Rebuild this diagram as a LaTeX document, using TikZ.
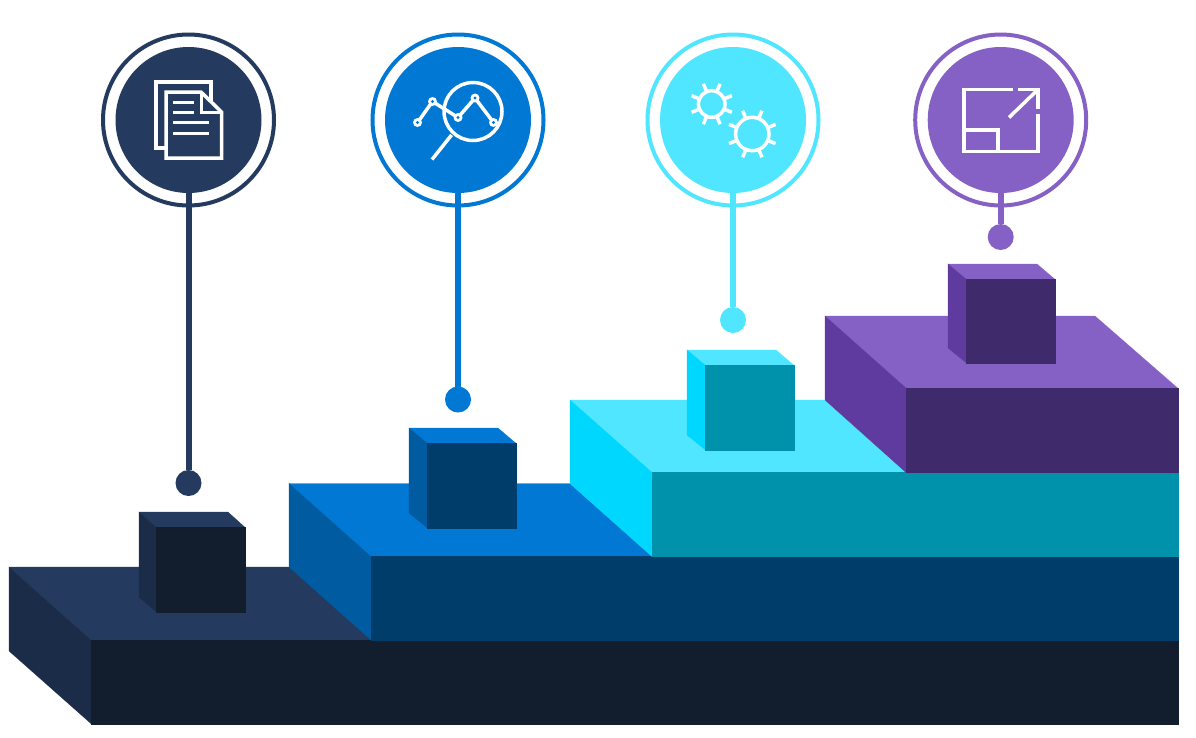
\documentclass[tikz,border=0pt]{standalone}
\definecolor{navyT}{HTML}{243A5E}\definecolor{navyF}{HTML}{121E2E}\definecolor{navyS}{HTML}{1A2C47}
\definecolor{blueT}{HTML}{0078D4}\definecolor{blueF}{HTML}{003D6B}\definecolor{blueS}{HTML}{005BA1}
\definecolor{cyanT}{HTML}{50E6FF}\definecolor{cyanF}{HTML}{0091AB}\definecolor{cyanS}{HTML}{00D7FF}
\definecolor{purpT}{HTML}{8661C5}\definecolor{purpF}{HTML}{3F2A6B}\definecolor{purpS}{HTML}{5F3A9F}
\tikzset{
 disc/.style={circle,fill=#1,minimum size=146pt,inner sep=0pt,outer sep=0pt},
 ring/.style={circle,draw=#1,line width=4pt,minimum size=171pt,inner sep=0pt,outer sep=0pt},
 pin/.style={circle,fill=#1,minimum size=26pt,inner sep=0pt,outer sep=0pt},
 stem/.style={draw=#1,line width=6pt},
 icon/.style={draw=white,line width=3.5pt,miter limit=10},
 thinicon/.style={draw=white,line width=3pt},
 face/.style={fill=#1,draw=#1,line width=.2pt}
}
\newcommand{\gearicon}[3]{%
 \draw[icon] (#1,#2) circle[radius=#3];
 \foreach \a in {22.5,67.5,...,337.5}
  \draw[icon] ({#1+#3*cos(\a)},{#2+#3*sin(\a)}) -- ({#1+(#3+8.5)*cos(\a)},{#2+(#3+8.5)*sin(\a)});
}
\begin{document}
\begin{tikzpicture}[x=1pt,y=-1pt]
\useasboundingbox (0,0) rectangle (1196,737);
\fill[white] (0,0) rectangle (1196,737);
% steps
\path[face=navyT] (9,567)--(290,567)--(372,640)--(91,640)--cycle;
\path[face=navyS] (9,567)--(91,640)--(91,723.6)--(9,651)--cycle;
\path[face=navyF] (91,640) rectangle (1177.6,723.6);
\path[face=blueT] (289,483.5)--(570,483.5)--(652,556.5)--(371,556.5)--cycle;
\path[face=blueS] (289,483.5)--(371,556.5)--(371,640)--(289,567)--cycle;
\path[face=blueF] (371,556.5) rectangle (1177.6,639.6);
\path[face=cyanT] (570,400)--(825,400)--(906,472.5)--(652,472.5)--cycle;
\path[face=cyanS] (570,400)--(652,472.5)--(652,556.5)--(570,483.5)--cycle;
\path[face=cyanF] (651.7,472.5) rectangle (1177.6,556.3);
\path[face=purpT] (825,316)--(1095,316)--(1177.6,388)--(906,388)--cycle;
\path[face=purpS] (825,316)--(906,388)--(906,472.5)--(825,400)--cycle;
\path[face=purpF] (906,388) rectangle (1177.6,472.3);
% cubes
\path[face=navyT] (139,512)--(228,512)--(244.6,527)--(156,527)--cycle;
\path[face=navyS] (139,512)--(156,527)--(156,611.6)--(139,597)--cycle;
\path[face=navyF] (156,527) rectangle (244.6,611.6);
\path[face=blueT] (409,428)--(498,428)--(515.6,443)--(427,443)--cycle;
\path[face=blueS] (409,428)--(427,443)--(427,527.6)--(409,513)--cycle;
\path[face=blueF] (427,443) rectangle (515.6,527.6);
\path[face=cyanT] (687,350)--(776,350)--(793.6,365)--(705,365)--cycle;
\path[face=cyanS] (687,350)--(705,365)--(705,449.6)--(687,435)--cycle;
\path[face=cyanF] (705,365) rectangle (793.6,449.6);
\path[face=purpT] (948,264)--(1037,264)--(1054.6,279)--(966,279)--cycle;
\path[face=purpS] (948,264)--(966,279)--(966,362.6)--(948,348)--cycle;
\path[face=purpF] (966,279) rectangle (1054.6,362.6);
% circles, pins and stems
\node[ring=navyT] (r1) at (188.5,120) {};
\node[disc=navyT] (c1) at (188.5,120) {};
\node[pin=navyT] (d1) at (188.5,483) {};
\draw[stem=navyT] (c1) -- (d1);
\node[ring=blueT] (r2) at (458,120) {};
\node[disc=blueT] (c2) at (458,120) {};
\node[pin=blueT] (d2) at (458,399.5) {};
\draw[stem=blueT] (c2) -- (d2);
\node[ring=cyanT] (r3) at (733,120) {};
\node[disc=cyanT] (c3) at (733,120) {};
\node[pin=cyanT] (d3) at (733,320) {};
\draw[stem=cyanT] (c3) -- (d3);
\node[ring=purpT] (r4) at (1000.7,120) {};
\node[disc=purpT] (c4) at (1000.7,120) {};
\node[pin=purpT] (d4) at (1000.7,237) {};
\draw[stem=purpT] (c4) -- (d4);
% document icon
\draw[icon] (156,82) rectangle (211,148);
\draw[icon,fill=navyT] (166,92) -- (201,92) -- (221.5,112) -- (221.5,158) -- (166,158) -- cycle;
\draw[thinicon] (201,92) -- (201,112) -- (221.5,112);
\draw[thinicon] (173,102) -- (194,102) (173,112) -- (194,112) (173,122.5) -- (209,122.5) (173,133) -- (209,133);
% chart icon
\draw[icon] (473,111.5) circle[radius=29];
\draw[icon] (451.5,135) -- (432,159.5);
\draw[icon] (417.5,122.5) -- (432.5,101.5) -- (458,117.5) -- (475,98) -- (493.5,122.5);
\foreach \px/\py in {417.5/122.5,432.5/101.5,458/117.5,475/98,493.5/122.5}{
 \fill[white] (\px,\py) circle[radius=4.5];
 \fill[blueT] (\px,\py) circle[radius=1.6];
}
% gears icon
\gearicon{711.7}{104}{13.3}
\gearicon{752.3}{134}{16.7}
% resize icon
\draw[icon] (1012.5,89.5) -- (964,89.5) -- (964,151.5) -- (1038,151.5) -- (1038,114);
\draw[icon] (1038,109) -- (1038,89.5) -- (1018,89.5);
\draw[icon] (964,130) -- (998,130) -- (998,151.5);
\draw[icon] (1009,117.5) -- (1038,89.5);
\end{tikzpicture}
\end{document}
